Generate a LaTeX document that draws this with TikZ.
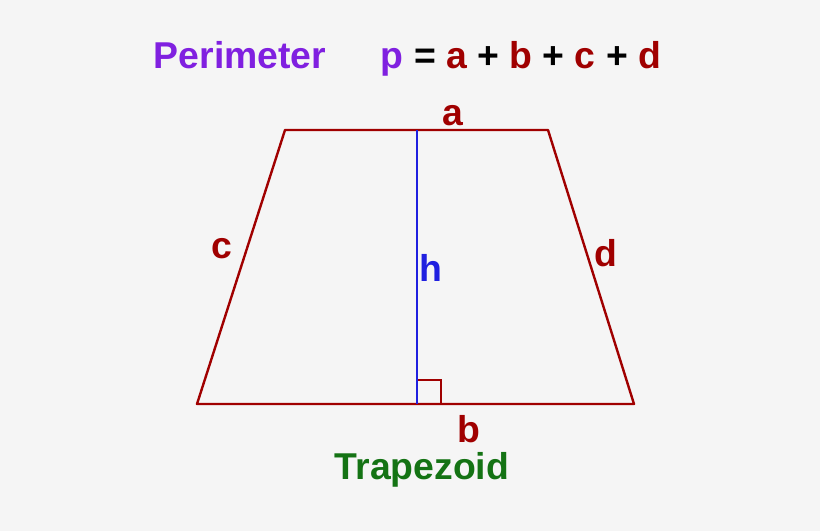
\documentclass[tikz,border=0pt]{standalone}
\usepackage{fontspec}
\setmainfont{Liberation Sans}
\definecolor{bggray}{RGB}{245,245,245}
\definecolor{perimpurple}{RGB}{128,32,224}
\definecolor{sidered}{RGB}{160,0,0}
\definecolor{hblue}{RGB}{32,32,224}
\definecolor{trapgreen}{RGB}{20,115,20}
\begin{document}
\begin{tikzpicture}[x=1bp, y=-1bp]
        \tikzstyle{every node}=[inner sep=0pt, font=\fontsize{37.5}{44}\selectfont\bfseries]
        \tikzstyle{side}=[draw=sidered, line width=2.4bp]
        \fill[bggray] (0,0) rectangle (820,531);
        \useasboundingbox (0,0) rectangle (820,531);
        \coordinate (tl) at (285,130); \coordinate (tr) at (548,130);
        \coordinate (br) at (634,404); \coordinate (bl) at (197,404);
        \coordinate (htop) at (417,130); \coordinate (hfoot) at (417,404);
        \draw[side, line join=round] (tl) -- (tr) -- (br) -- (bl) -- cycle;
        \draw[side] (hfoot) ++(0,-24) -| ++(24,24);
        \draw[draw=hblue, line width=2.4bp] (htop) -- (hfoot);
        \node[text=perimpurple, anchor=base] (perim) at (240,69) {Perimeter};
        \node[anchor=base] (formula) at (521,69) {\color{perimpurple}p \color{black}= \color{sidered}a \color{black}+ \color{sidered}b \color{black}+ \color{sidered}c \color{black}+ \color{sidered}d};
        \node[text=sidered] (la) at (453,116) {a};
        \node[text=sidered] (lb) at (469,429) {b};
        \node[text=sidered] (lc) at (222,249) {c};
        \node[text=sidered] (ld) at (606,253) {d};
        \node[text=hblue] (lh) at (431,268) {h};
        \node[text=trapgreen, anchor=base] (name) at (422,479) {Trapezoid};
    \end{tikzpicture}
\end{document}
